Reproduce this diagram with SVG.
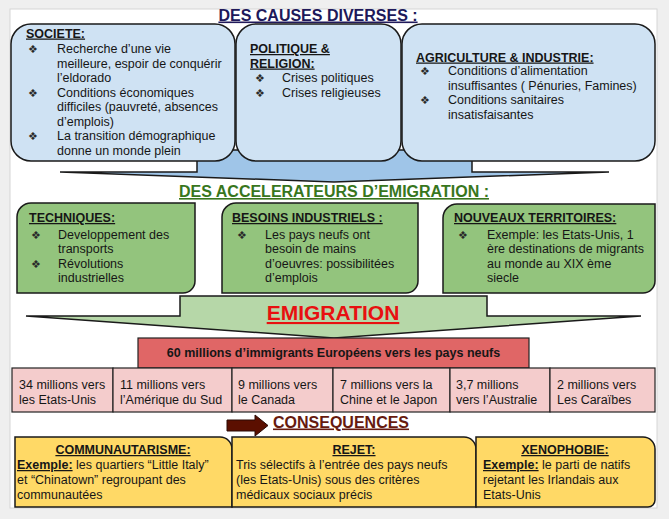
<svg xmlns="http://www.w3.org/2000/svg" width="669" height="519" viewBox="0 0 669 519">
<style>
text{font-family:"Liberation Sans",Arial,sans-serif;font-size:12.5px;fill:#161616}
.b{font-weight:bold}
.u{text-decoration:underline}
.bl{font-family:"DejaVu Sans",sans-serif;font-size:11px;fill:#2a2a2a}
.blue{fill:#cfe2f3;stroke:#1a1a1a;stroke-width:1.5}
.green{fill:#93c47d;stroke:#1a1a1a;stroke-width:1.5}
.yel{fill:#ffd966;stroke:#1a1a1a;stroke-width:1.5}
.pink{fill:#f4cccc;stroke:#222;stroke-width:1.2}
.red{fill:#e06666;stroke:#222;stroke-width:1.2}
.title{font-size:16px;font-weight:bold;text-decoration:underline}
.c{text-anchor:middle}
</style>
<rect x="0" y="0" width="669" height="519" fill="#efefef"/>
<rect x="10" y="9" width="647" height="499" fill="#ffffff" stroke="#d6d6d6" stroke-width="1"/>

<g id="connectors">
  <polygon points="197,150 472,150 472,172 609,172 334,182 60,172 197,172" fill="#9fc5e8" stroke="#1a1a1a" stroke-width="1.5"/>
  <polygon points="180,296 487,296 487,316 641,316 334,338 26,316 180,316" fill="#b6d7a8" stroke="#1a1a1a" stroke-width="1.5"/>
  <polygon points="227,420 255,420 255,415 268,425.5 255,436 255,431 227,431" fill="#5b0f00" stroke="#2a0a05" stroke-width="1"/>
</g>

<g id="title-causes"><text x="318" y="20.5" class="title c" style="fill:#20195a">DES CAUSES DIVERSES :</text></g>

<g id="societe">
  <rect x="11" y="24" width="224" height="137" rx="20" class="blue"/>
  <text x="26" y="37.5" class="b u">SOCIETE:</text>
  <text x="28" y="53" class="bl">❖</text>
  <text x="57" y="53">Recherche d’une vie</text>
  <text x="57" y="67.5">meilleure, espoir de conquérir</text>
  <text x="57" y="82">l’eldorado</text>
  <text x="28" y="96.5" class="bl">❖</text>
  <text x="57" y="96.5">Conditions économiques</text>
  <text x="57" y="111">difficiles (pauvreté, absences</text>
  <text x="57" y="125.5">d’emplois)</text>
  <text x="28" y="140" class="bl">❖</text>
  <text x="57" y="140">La transition démographique</text>
  <text x="57" y="154.5">donne un monde plein</text>
</g>

<g id="politique">
  <rect x="236" y="24" width="165" height="137" rx="20" class="blue"/>
  <text x="250" y="53" class="b u">POLITIQUE &amp;</text>
  <text x="250" y="67.5" class="b u">RELIGION:</text>
  <text x="255" y="82" class="bl">❖</text>
  <text x="282" y="82">Crises politiques</text>
  <text x="255" y="96.5" class="bl">❖</text>
  <text x="282" y="96.5">Crises religieuses</text>
</g>

<g id="agriculture">
  <rect x="402" y="24" width="253" height="137" rx="20" class="blue"/>
  <text x="416" y="61.5" class="b u">AGRICULTURE &amp; INDUSTRIE:</text>
  <text x="420" y="75" class="bl">❖</text>
  <text x="448" y="75">Conditions d’alimentation</text>
  <text x="448" y="89.5">insuffisantes ( Pénuries, Famines)</text>
  <text x="420" y="104" class="bl">❖</text>
  <text x="448" y="104">Conditions sanitaires</text>
  <text x="448" y="118.5">insatisfaisantes</text>
</g>

<g id="title-accelerateurs"><text x="334" y="197" class="title c" style="fill:#38761d">DES ACCELERATEURS D’EMIGRATION :</text></g>

<g id="techniques">
  <path d="M31 203H195V281A12 12 0 0 1 183 293H17V217A14 14 0 0 1 31 203Z" class="green"/>
  <text x="29" y="222" class="b u">TECHNIQUES:</text>
  <text x="31" y="238.5" class="bl">❖</text>
  <text x="58" y="238.5">Developpement des</text>
  <text x="58" y="253">transports</text>
  <text x="31" y="267.5" class="bl">❖</text>
  <text x="58" y="267.5">Révolutions</text>
  <text x="58" y="282">industrielles</text>
</g>

<g id="besoins">
  <path d="M236 203H418V281A12 12 0 0 1 406 293H222V217A14 14 0 0 1 236 203Z" class="green"/>
  <text x="232" y="222" class="b u">BESOINS INDUSTRIELS :</text>
  <text x="237" y="238.5" class="bl">❖</text>
  <text x="265" y="238.5">Les pays neufs ont</text>
  <text x="265" y="253">besoin de mains</text>
  <text x="265" y="267.5">d’oeuvres: possibilitées</text>
  <text x="265" y="282">d’emplois</text>
</g>

<g id="territoires">
  <path d="M457 204H655V281A12 12 0 0 1 643 293H443V218A14 14 0 0 1 457 204Z" class="green"/>
  <text x="454" y="222" class="b u">NOUVEAUX TERRITOIRES:</text>
  <text x="458" y="238.5" class="bl">❖</text>
  <text x="487" y="238.5">Exemple: les Etats-Unis, 1</text>
  <text x="487" y="253">ère destinations de migrants</text>
  <text x="487" y="267.5">au monde au XIX ème</text>
  <text x="487" y="282">siecle</text>
</g>

<g id="emigration"><text x="333" y="320" class="c b u" style="font-size:21px;fill:#e81010">EMIGRATION</text></g>

<g id="total">
  <rect x="138" y="338" width="391" height="30" class="red"/>
  <text x="333.5" y="357" class="b c">60 millions d’immigrants Européens vers les pays neufs</text>
</g>

<g id="etats-unis"><rect x="12" y="368" width="101" height="44" class="pink"/><text x="19" y="389">34 millions vers</text><text x="19" y="404">les Etats-Unis</text></g>
<g id="amerique-sud"><rect x="113" y="368" width="119" height="44" class="pink"/><text x="120" y="389">11 millions vers</text><text x="120" y="404">l’Amérique du Sud</text></g>
<g id="canada"><rect x="232" y="368" width="101" height="44" class="pink"/><text x="238" y="389">9 millions vers</text><text x="238" y="404">le Canada</text></g>
<g id="chine-japon"><rect x="333" y="368" width="117" height="44" class="pink"/><text x="340" y="389">7 millions vers la</text><text x="340" y="404">Chine et le Japon</text></g>
<g id="australie"><rect x="450" y="368" width="100" height="44" class="pink"/><text x="456" y="389">3,7 millions</text><text x="456" y="404">vers l’Australie</text></g>
<g id="caraibes"><rect x="550" y="368" width="105" height="44" class="pink"/><text x="557" y="389">2 millions vers</text><text x="557" y="404">Les Caraïbes</text></g>

<g id="consequences"><text x="273" y="427.5" class="title" style="fill:#661a0e">CONSEQUENCES</text></g>

<g id="communautarisme">
  <path d="M15 437H220A12 12 0 0 1 232 449V507H15Z" class="yel"/>
  <text x="123" y="454" class="b u c">COMMUNAUTARISME:</text>
  <text x="17" y="469"><tspan class="b u">Exemple:</tspan> les quartiers “Little Italy”</text>
  <text x="17" y="484">et “Chinatown” regroupant des</text>
  <text x="17" y="498.5">communautées</text>
</g>

<g id="rejet">
  <path d="M232 437H464A12 12 0 0 1 476 449V507H232Z" class="yel"/>
  <text x="354" y="454" class="b u c">REJET:</text>
  <text x="236" y="469">Tris sélectifs à l’entrée des pays neufs</text>
  <text x="236" y="484">(les Etats-Unis) sous des critères</text>
  <text x="236" y="498.5">médicaux sociaux précis</text>
</g>

<g id="xenophobie">
  <path d="M476 437H643A12 12 0 0 1 655 449V500A7 7 0 0 1 648 507H476Z" class="yel"/>
  <text x="565" y="454" class="b u c">XENOPHOBIE:</text>
  <text x="483" y="469"><tspan class="b u">Exemple:</tspan> le parti de natifs</text>
  <text x="483" y="484">rejetant les Irlandais aux</text>
  <text x="483" y="498.5">Etats-Unis</text>
</g>
</svg>
